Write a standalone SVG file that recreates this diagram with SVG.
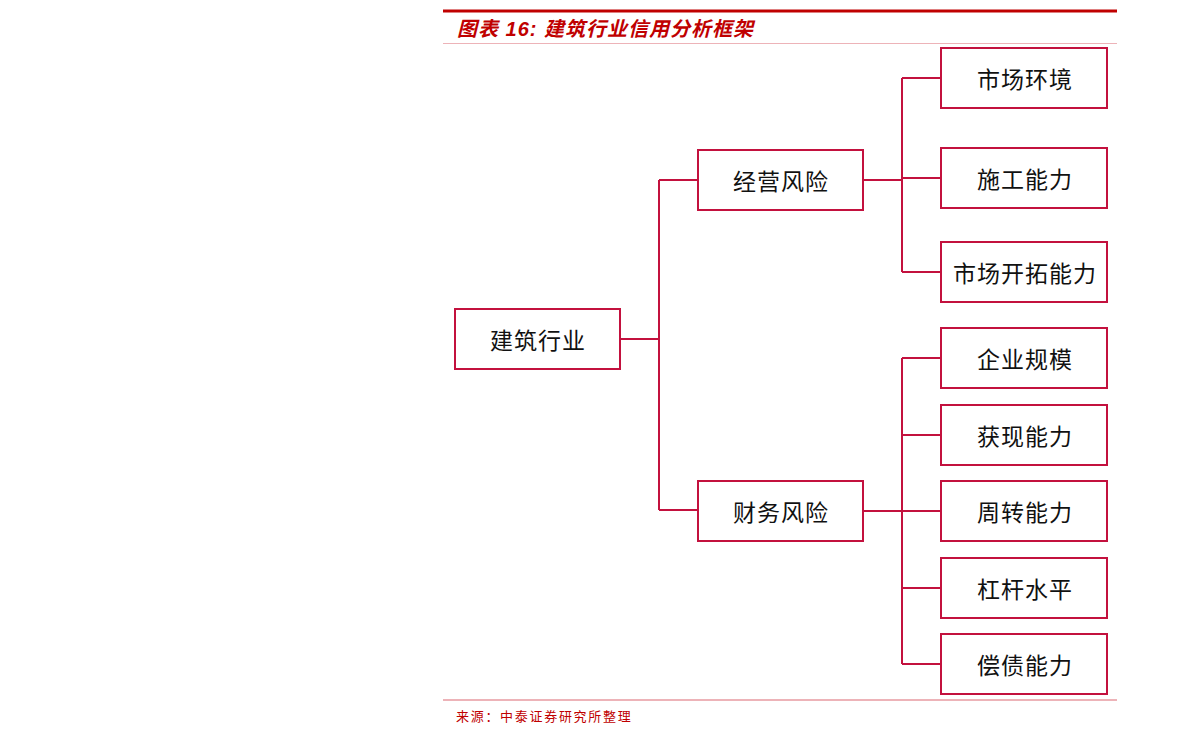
<svg xmlns="http://www.w3.org/2000/svg" width="1191" height="743" viewBox="0 0 1191 743">
<style>
.box{fill:#fff;stroke:#C3113E;stroke-width:2}
.lbl{font-family:"Noto Sans CJK SC","Noto Sans",sans-serif;font-size:23px;letter-spacing:1px;fill:#111;text-anchor:middle;dominant-baseline:central}
.conn{fill:none;stroke:#C3113E;stroke-width:2}
</style>
<rect width="1191" height="743" fill="#fff"/>
<g id="header">
<line x1="443" y1="11" x2="1117" y2="11" stroke="#C00000" stroke-width="3"/>
<text x="457" y="36" font-family="'Liberation Sans','Noto Sans CJK SC',sans-serif" font-size="20" letter-spacing="1" font-weight="bold" font-style="italic" fill="#C00000">图表 16: 建筑行业信用分析框架</text>
<line x1="443" y1="43.5" x2="1117" y2="43.5" stroke="#EDB3B8" stroke-width="1"/>
</g>
<g id="connectors">
<path class="conn" d="M620 339H659M659 180V510M659 180H697M659 510H697"/>
<path class="conn" d="M863 180H902M902 78V272M902 78H941M902 178H941M902 272H941"/>
<path class="conn" d="M863 511H902M902 358V664M902 358H941M902 435H941M902 511H941M902 588H941M902 664H941"/>
</g>
<g id="n-root"><rect class="box" x="455" y="309" width="165" height="60"/><text class="lbl" x="538" y="339">建筑行业</text></g>
<g id="n-op"><rect class="box" x="698" y="150" width="165" height="60"/><text class="lbl" x="781" y="180">经营风险</text></g>
<g id="n-fin"><rect class="box" x="698" y="481" width="165" height="60"/><text class="lbl" x="781" y="511">财务风险</text></g>
<g id="n-1"><rect class="box" x="941" y="48" width="166" height="60"/><text class="lbl" x="1025" y="78">市场环境</text></g>
<g id="n-2"><rect class="box" x="941" y="148" width="166" height="60"/><text class="lbl" x="1025" y="178">施工能力</text></g>
<g id="n-3"><rect class="box" x="941" y="242" width="166" height="60"/><text class="lbl" x="1025" y="272">市场开拓能力</text></g>
<g id="n-4"><rect class="box" x="941" y="328" width="166" height="60"/><text class="lbl" x="1025" y="358">企业规模</text></g>
<g id="n-5"><rect class="box" x="941" y="405" width="166" height="60"/><text class="lbl" x="1025" y="435">获现能力</text></g>
<g id="n-6"><rect class="box" x="941" y="481" width="166" height="60"/><text class="lbl" x="1025" y="511">周转能力</text></g>
<g id="n-7"><rect class="box" x="941" y="558" width="166" height="60"/><text class="lbl" x="1025" y="588">杠杆水平</text></g>
<g id="n-8"><rect class="box" x="941" y="634" width="166" height="60"/><text class="lbl" x="1025" y="664">偿债能力</text></g>
<g id="footer">
<line x1="443" y1="700" x2="1117" y2="700" stroke="#EDB3B8" stroke-width="2"/>
<text x="456" y="721" font-family="'Noto Sans CJK SC',sans-serif" font-size="13" letter-spacing="1.7" fill="#C00000">来源：中泰证券研究所整理</text>
</g>
</svg>
